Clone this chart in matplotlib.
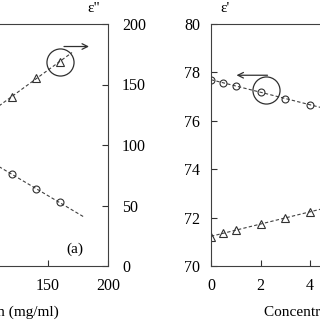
import matplotlib
matplotlib.use("Agg")
import matplotlib.pyplot as plt
import matplotlib.transforms as mtransforms
import numpy as np

plt.rcParams['font.family'] = ['Liberation Serif', 'DejaVu Serif']

# panel (a): protein concentration, right axis eps''
conc_a = [120, 140, 160]
eps2_tri_a = [140, 155, 169]
eps_circ_a = [76, 63.5, 52.5]

# panel (b): concentration 0..4 visible
conc_b = [0, 0.5, 1, 2, 3, 4]
eps1_circ_b = [77.69, 77.58, 77.44, 77.18, 76.91, 76.67]
eps2_tri_b = [71.21, 71.38, 71.47, 71.74, 71.98, 72.24]

ink = '#303030'
line_kw = dict(color='#404040', lw=0.8, ls=(0, (3, 2)))
mk_kw = dict(ls='none', mfc='none', mec=ink, mew=0.8)


def shifted(ax, dx, dy):
    # data transform shifted by some pixels
    return mtransforms.offset_copy(ax.transData, fig=ax.figure, x=dx, y=dy, units='dots')


fig = plt.figure(figsize=(3.2, 3.2), dpi=100)

# ---- left panel (a), partly outside canvas ----
ax1 = fig.add_axes([-0.4125, 0.16875, 0.75, 0.75625])
fit_t = np.polyfit(conc_a, eps2_tri_a, 1)
fit_c = np.polyfit(conc_a, eps_circ_a, 1)
xt = np.array([0, 170])
xc = np.array([0, 180])
ax1.plot(xt, np.polyval(fit_t, xt), **line_kw)
ax1.plot(xc, np.polyval(fit_c, xc), **line_kw)
ax1.plot(conc_a, eps2_tri_a, marker='^', ms=5.5, **mk_kw)
ax1.plot(conc_a, eps_circ_a, marker='o', ms=5, **mk_kw)
# highlight circle + arrow
hx, hy = conc_a[-1], eps2_tri_a[-1]
ax1.plot(hx, hy, marker='o', ms=19.5, mfc='none', mec=ink, mew=0.9)
ax1.annotate('', xy=(hx, hy), xycoords=shifted(ax1, 29, 15),
             xytext=(hx, hy), textcoords=shifted(ax1, 4, 15),
             arrowprops=dict(arrowstyle='->', color=ink, lw=0.9, shrinkA=0, shrinkB=0))
ax1.set_xlim(0, 200)
ax1.set_ylim(0, 200)
ax1.set_xticks([0, 50, 100, 150, 200])
ax1.set_yticks([0, 50, 100, 150, 200])
ax1.yaxis.tick_right()
ax1.tick_params(direction='in', labelsize=11.5, length=4, color=ink, pad=9)
ax1.tick_params(axis='y', pad=10)
for s in ax1.spines.values():
    s.set_color('#404040')
ax1.set_xlabel('Concentration (mg/ml)', fontsize=11, labelpad=8)
ax1.text(172.5, 14, '(a)', fontsize=11, ha='center', va='center')
ax1.text(0.94, 1.065, 'ε"', transform=ax1.transAxes, fontsize=11, ha='center', va='center')

# ---- right panel, partly outside canvas ----
ax2 = fig.add_axes([0.6594, 0.16875, 0.7734, 0.75625])
xb = np.array([0, 10])
ax2.plot(xb, np.polyval(np.polyfit(conc_b, eps1_circ_b, 1), xb), **line_kw)
ax2.plot(xb, np.polyval(np.polyfit(conc_b, eps2_tri_b, 1), xb), **line_kw)
ax2.plot(conc_b, eps1_circ_b, marker='o', ms=5, **mk_kw)
ax2.plot(conc_b, eps2_tri_b, marker='^', ms=5.5, **mk_kw)
gx, gy = conc_b[3], eps1_circ_b[3]
ax2.plot(gx, gy, marker='o', ms=19.5, mfc='none', mec=ink, mew=0.9,
         transform=shifted(ax2, 5, 2))
ax2.annotate('', xy=(gx, gy), xycoords=shifted(ax2, -24, 17),
             xytext=(gx, gy), textcoords=shifted(ax2, 7, 17),
             arrowprops=dict(arrowstyle='->', color=ink, lw=0.9, shrinkA=0, shrinkB=0))
ax2.set_xlim(0, 10)
ax2.set_ylim(70, 80)
ax2.set_xticks([0, 2, 4, 6, 8, 10])
ax2.set_yticks([70, 72, 74, 76, 78, 80])
ax2.tick_params(direction='in', labelsize=11.5, length=4, color=ink, pad=9)
ax2.tick_params(axis='y', pad=8)
for s in ax2.spines.values():
    s.set_color('#404040')
ax2.set_xlabel('Concentration (mg/ml)', fontsize=11, labelpad=8)
ax2.text(0.058, 1.065, "ε'", transform=ax2.transAxes, fontsize=11, ha='center', va='center')

plt.savefig('out.png', dpi=100)
